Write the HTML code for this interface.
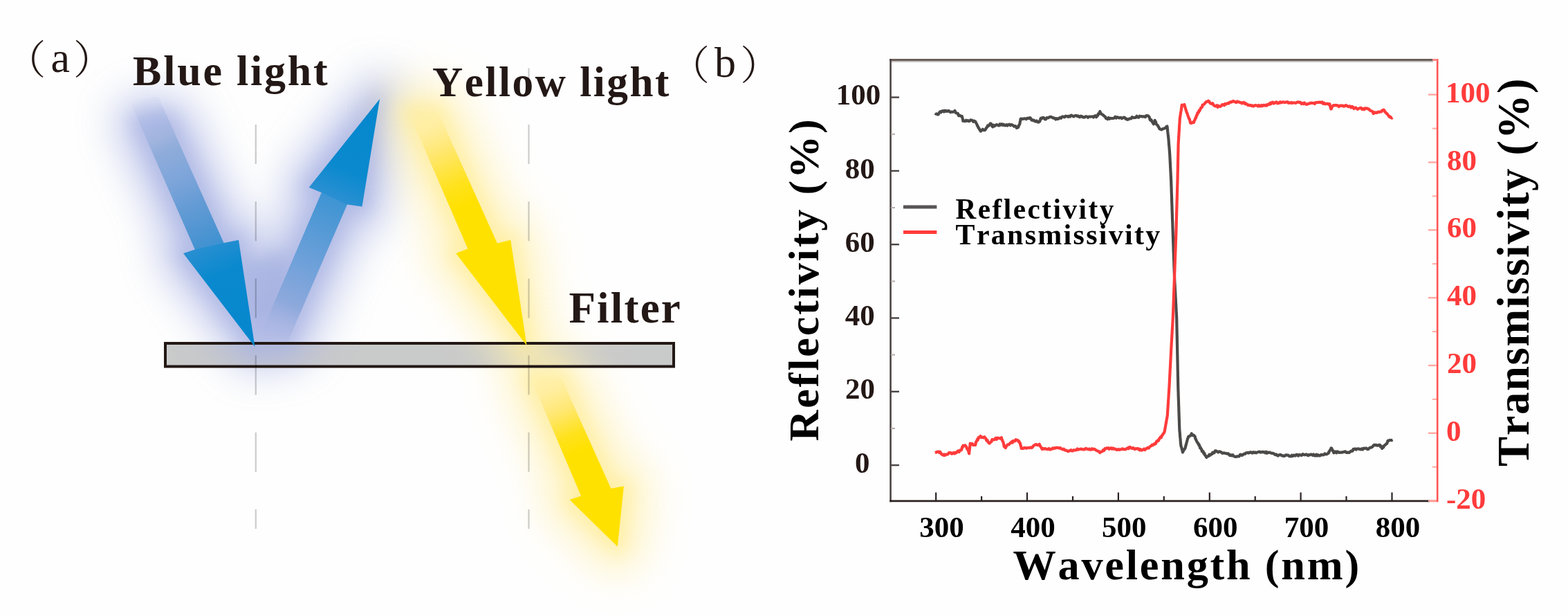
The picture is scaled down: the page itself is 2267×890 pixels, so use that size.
<!DOCTYPE html>
<html><head><meta charset="utf-8"><title>Filter reflectivity and transmissivity</title>
<style>
html,body{margin:0;padding:0;background:#fefefe;overflow:hidden}
svg{display:block}
text{font-family:"Liberation Serif","Noto Serif CJK SC",serif;font-kerning:none;font-variant-ligatures:none}
.b{font-weight:bold}
.cj{font-family:"Liberation Serif","Noto Serif CJK SC",serif;font-weight:300}
</style></head><body>
<svg width="2267" height="890" viewBox="0 0 2267 890">
<defs>
<filter id="gbw" x="-50%" y="-50%" width="200%" height="200%"><feGaussianBlur stdDeviation="28"/></filter>
<filter id="gbn" x="-50%" y="-50%" width="200%" height="200%"><feGaussianBlur stdDeviation="12"/></filter>
<linearGradient id="bi" gradientUnits="userSpaceOnUse" x1="205" y1="140" x2="300" y2="358">
 <stop offset="0" stop-color="#a6b5e3" stop-opacity="0"/><stop offset="0.09" stop-color="#a6b5e3" stop-opacity="0.2"/><stop offset="0.18" stop-color="#a2b4e2" stop-opacity="0.6"/><stop offset="0.275" stop-color="#a0b4de"/><stop offset="0.36" stop-color="#8facda"/><stop offset="0.55" stop-color="#7da5da"/><stop offset="0.73" stop-color="#649bd4"/><stop offset="0.92" stop-color="#4b94d2"/><stop offset="1" stop-color="#3f92d1"/></linearGradient>
<linearGradient id="bih" gradientUnits="userSpaceOnUse" x1="300" y1="350" x2="368" y2="500">
 <stop offset="0" stop-color="#2a8fd1"/><stop offset="0.3" stop-color="#0a89ce"/><stop offset="1" stop-color="#0587cd"/></linearGradient>
<linearGradient id="br" gradientUnits="userSpaceOnUse" x1="396" y1="492" x2="485" y2="285">
 <stop offset="0" stop-color="#aab6e2" stop-opacity="0"/><stop offset="0.1" stop-color="#a8b5e2" stop-opacity="0.7"/><stop offset="0.25" stop-color="#8ea9dc"/><stop offset="0.55" stop-color="#6da0d9"/><stop offset="1" stop-color="#3d94d3"/></linearGradient>
<linearGradient id="brh" gradientUnits="userSpaceOnUse" x1="485" y1="290" x2="549" y2="143">
 <stop offset="0" stop-color="#2c90d2"/><stop offset="0.3" stop-color="#0a89ce"/><stop offset="1" stop-color="#0587cd"/></linearGradient>
<linearGradient id="yi" gradientUnits="userSpaceOnUse" x1="610" y1="160" x2="698" y2="358">
 <stop offset="0" stop-color="#fff0a8" stop-opacity="0"/><stop offset="0.12" stop-color="#ffeea0" stop-opacity="0.8"/><stop offset="0.3" stop-color="#ffe770"/><stop offset="0.55" stop-color="#ffe21c"/><stop offset="0.7" stop-color="#ffe100"/><stop offset="1" stop-color="#ffe100"/></linearGradient>
<linearGradient id="yt" gradientUnits="userSpaceOnUse" x1="790" y1="545" x2="862" y2="712">
 <stop offset="0" stop-color="#fff0a8" stop-opacity="0"/><stop offset="0.1" stop-color="#ffeea0" stop-opacity="0.8"/><stop offset="0.3" stop-color="#ffe770"/><stop offset="0.5" stop-color="#ffe21c"/><stop offset="0.65" stop-color="#ffe100"/><stop offset="1" stop-color="#ffe100"/></linearGradient>
</defs>
<rect x="0" y="0" width="2267" height="890" fill="#fefefe"/>

<rect x="239" y="496" width="735" height="33.5" fill="#c9caca"/>
<g filter="url(#gbw)" opacity="0.7">
<polygon points="200.4,175.0 244.8,175.0 323.6,351.0 345.0,346.7 368.5,501.0 265.0,366.0 281.8,360.4" fill="#a9b3e3" stroke="#a9b3e3" stroke-width="70" stroke-linejoin="round"/>
<polygon points="549.0,143.0 523.5,298.5 502.0,295.4 416.0,494.0 372.0,494.0 464.8,278.3 446.7,270.8" fill="#a9b3e3" stroke="#a9b3e3" stroke-width="70" stroke-linejoin="round"/>
</g>
<g filter="url(#gbn)" opacity="0.62">
<polygon points="200.4,175.0 244.8,175.0 323.6,351.0 345.0,346.7 368.5,501.0 265.0,366.0 281.8,360.4" fill="#a9b3e3" stroke="#a9b3e3" stroke-width="22" stroke-linejoin="round"/>
<polygon points="549.0,143.0 523.5,298.5 502.0,295.4 416.0,494.0 372.0,494.0 464.8,278.3 446.7,270.8" fill="#a9b3e3" stroke="#a9b3e3" stroke-width="22" stroke-linejoin="round"/>
</g>
<g filter="url(#gbn)" opacity="0.55">
<polygon points="352,380 410,360 418,400 405,450 372,470 360,440" fill="#9aa8dc"/>
</g>
<g filter="url(#gbw)" opacity="0.7">
<polygon points="590.0,160.0 632.5,160.0 719.0,351.6 738.2,346.7 761.6,499.3 659.2,365.9 676.3,359.5" fill="#fff0b0" stroke="#fff0b0" stroke-width="80" stroke-linejoin="round"/>
<polygon points="767.0,545.0 811.0,545.0 883.4,705.8 901.9,702.5 892.8,789.8 823.6,722.1 840.1,716.6" fill="#fff0b0" stroke="#fff0b0" stroke-width="80" stroke-linejoin="round"/>
</g>
<g filter="url(#gbn)" opacity="0.6">
<polygon points="590.0,160.0 632.5,160.0 719.0,351.6 738.2,346.7 761.6,499.3 659.2,365.9 676.3,359.5" fill="#ffec90" stroke="#ffec90" stroke-width="22" stroke-linejoin="round"/>
<polygon points="767.0,545.0 811.0,545.0 883.4,705.8 901.9,702.5 892.8,789.8 823.6,722.1 840.1,716.6" fill="#ffec90" stroke="#ffec90" stroke-width="22" stroke-linejoin="round"/>
</g>
<rect x="239" y="496" width="735" height="33.5" fill="none" stroke="#231815" stroke-width="4"/>
<line x1="369.8" y1="180" x2="369.8" y2="764" stroke="#cdcdcd" stroke-width="2.2" stroke-dasharray="57 54.2" style="mix-blend-mode:multiply"/>
<line x1="764.5" y1="180" x2="764.5" y2="764" stroke="#cdcdcd" stroke-width="2.2" stroke-dasharray="57 54.2" style="mix-blend-mode:multiply"/>
<line x1="764.5" y1="98.5" x2="764.5" y2="131" stroke="#cdcdcd" stroke-width="2.2" style="mix-blend-mode:multiply"/>
<polygon points="185.0,140.0 229.0,140.0 329.3,363.8 287.4,373.2" fill="url(#bi)"/>
<polygon points="281.8,360.4 323.6,351.0 345.0,346.7 368.5,501.0 265.0,366.0" fill="url(#bih)"/>
<polygon points="507.6,282.6 416.0,494.0 372.0,494.0 470.3,265.4" fill="url(#br)"/>
<polygon points="549.0,143.0 523.5,298.5 502.0,295.4 464.8,278.3 446.7,270.8" fill="url(#brh)"/>
<polygon points="590.0,160.0 632.5,160.0 724.8,364.4 681.9,372.3" fill="url(#yi)"/>
<polygon points="676.3,359.5 719.0,351.6 738.2,346.7 761.6,499.3 659.2,365.9" fill="#ffe100"/>
<polygon points="767.0,545.0 811.0,545.0 889.1,718.6 845.6,729.5" fill="url(#yt)"/>
<polygon points="840.1,716.6 883.4,705.8 901.9,702.5 892.8,789.8 823.6,722.1" fill="#ffe100"/>
<text class="cj" x="8.3" y="106.7" font-size="58" fill="#231815">（</text>
<text x="73.6" y="103.5" font-size="62" fill="#231815">a</text>
<text class="cj" x="105.9" y="106.7" font-size="58" fill="#231815">）</text>
<text class="b" x="192" y="122.6" font-size="62" letter-spacing="2.78" fill="#231815">Blue light</text>
<text class="b" x="625" y="139" font-size="61.2" letter-spacing="2.55" fill="#231815">Yellow light</text>
<text class="b" x="822.4" y="465.5" font-size="63" letter-spacing="2.2" fill="#231815">Filter</text>
<text class="cj" x="967.9" y="114.7" font-size="58" fill="#231815">（</text>
<text x="1033" y="111" font-size="62" fill="#231815">b</text>
<text class="cj" x="1070.2" y="114.7" font-size="58" fill="#231815">）</text>
<line x1="1286" y1="86.5" x2="2072" y2="86.5" stroke="#6a5e59" stroke-width="3"/>
<line x1="1289" y1="89" x2="2072" y2="89" stroke="#b4b0af" stroke-width="1.4"/>
<line x1="1287.6" y1="85" x2="1287.6" y2="725.2" stroke="#4a4442" stroke-width="2.6"/>
<line x1="1286.3" y1="723.8" x2="2067" y2="723.8" stroke="#2a2220" stroke-width="2.8"/>
<line x1="2078.2" y1="85" x2="2078.2" y2="725.2" stroke="#ff5555" stroke-width="2.6"/>
<line x1="2067" y1="723.8" x2="2078" y2="723.8" stroke="#ff5555" stroke-width="2.8"/>
<line x1="2071" y1="86.5" x2="2078" y2="86.5" stroke="#ff8888" stroke-width="3"/>
<line x1="1288" y1="672.1" x2="1300" y2="672.1" stroke="#4a4442" stroke-width="2.4"/>
<line x1="1288" y1="565.8" x2="1300" y2="565.8" stroke="#4a4442" stroke-width="2.4"/>
<line x1="1288" y1="459.5" x2="1300" y2="459.5" stroke="#4a4442" stroke-width="2.4"/>
<line x1="1288" y1="353.2" x2="1300" y2="353.2" stroke="#4a4442" stroke-width="2.4"/>
<line x1="1288" y1="246.9" x2="1300" y2="246.9" stroke="#4a4442" stroke-width="2.4"/>
<line x1="1288" y1="140.6" x2="1300" y2="140.6" stroke="#4a4442" stroke-width="2.4"/>
<line x1="1288" y1="619.0" x2="1294" y2="619.0" stroke="#b5adaa" stroke-width="2"/>
<line x1="1288" y1="512.6" x2="1294" y2="512.6" stroke="#b5adaa" stroke-width="2"/>
<line x1="1288" y1="406.4" x2="1294" y2="406.4" stroke="#b5adaa" stroke-width="2"/>
<line x1="1288" y1="300.1" x2="1294" y2="300.1" stroke="#b5adaa" stroke-width="2"/>
<line x1="1288" y1="193.8" x2="1294" y2="193.8" stroke="#b5adaa" stroke-width="2"/>
<line x1="2065" y1="723.6" x2="2077" y2="723.6" stroke="#ffaaa0" stroke-width="2.4"/>
<line x1="2065" y1="625.8" x2="2077" y2="625.8" stroke="#ffaaa0" stroke-width="2.4"/>
<line x1="2065" y1="528.0" x2="2077" y2="528.0" stroke="#ffaaa0" stroke-width="2.4"/>
<line x1="2065" y1="430.2" x2="2077" y2="430.2" stroke="#ffaaa0" stroke-width="2.4"/>
<line x1="2065" y1="332.3" x2="2077" y2="332.3" stroke="#ffaaa0" stroke-width="2.4"/>
<line x1="2065" y1="234.5" x2="2077" y2="234.5" stroke="#ffaaa0" stroke-width="2.4"/>
<line x1="2065" y1="136.7" x2="2077" y2="136.7" stroke="#ffaaa0" stroke-width="2.4"/>
<line x1="2071" y1="674.7" x2="2077" y2="674.7" stroke="#ffaaa0" stroke-width="2"/>
<line x1="2071" y1="576.9" x2="2077" y2="576.9" stroke="#ffaaa0" stroke-width="2"/>
<line x1="2071" y1="479.1" x2="2077" y2="479.1" stroke="#ffaaa0" stroke-width="2"/>
<line x1="2071" y1="381.2" x2="2077" y2="381.2" stroke="#ffaaa0" stroke-width="2"/>
<line x1="2071" y1="283.4" x2="2077" y2="283.4" stroke="#ffaaa0" stroke-width="2"/>
<line x1="2071" y1="185.6" x2="2077" y2="185.6" stroke="#ffaaa0" stroke-width="2"/>
<line x1="1353.2" y1="711.5" x2="1353.2" y2="723" stroke="#2a2220" stroke-width="2.2"/>
<line x1="1485.0" y1="711.5" x2="1485.0" y2="723" stroke="#2a2220" stroke-width="2.2"/>
<line x1="1616.9" y1="711.5" x2="1616.9" y2="723" stroke="#2a2220" stroke-width="2.2"/>
<line x1="1748.8" y1="711.5" x2="1748.8" y2="723" stroke="#2a2220" stroke-width="2.2"/>
<line x1="1880.6" y1="711.5" x2="1880.6" y2="723" stroke="#2a2220" stroke-width="2.2"/>
<line x1="2012.5" y1="711.5" x2="2012.5" y2="723" stroke="#2a2220" stroke-width="2.2"/>
<line x1="1419.1" y1="717" x2="1419.1" y2="723" stroke="#2a2220" stroke-width="2.2"/>
<line x1="1551.0" y1="717" x2="1551.0" y2="723" stroke="#2a2220" stroke-width="2.2"/>
<line x1="1682.8" y1="717" x2="1682.8" y2="723" stroke="#2a2220" stroke-width="2.2"/>
<line x1="1814.7" y1="717" x2="1814.7" y2="723" stroke="#2a2220" stroke-width="2.2"/>
<line x1="1946.5" y1="717" x2="1946.5" y2="723" stroke="#2a2220" stroke-width="2.2"/>
<text class="b" x="1241.1" y="151.2" font-size="43" text-anchor="middle" fill="#231815">100</text>
<text class="b" x="1243.3" y="257.5" font-size="43" text-anchor="middle" fill="#231815">80</text>
<text class="b" x="1243.2" y="363.8" font-size="43" text-anchor="middle" fill="#231815">60</text>
<text class="b" x="1243.2" y="470.1" font-size="43" text-anchor="middle" fill="#231815">40</text>
<text class="b" x="1243.4" y="576.4" font-size="43" text-anchor="middle" fill="#231815">20</text>
<text class="b" x="1246.7" y="682.7" font-size="43" text-anchor="middle" fill="#231815">0</text>
<text class="b" x="2091" y="734.6" font-size="43" fill="#ff3b3b">-20</text>
<text class="b" x="2091" y="636.8" font-size="43" fill="#ff3b3b">0</text>
<text class="b" x="2092" y="539.0" font-size="43" fill="#ff3b3b">20</text>
<text class="b" x="2092" y="441.2" font-size="43" fill="#ff3b3b">40</text>
<text class="b" x="2092" y="343.3" font-size="43" fill="#ff3b3b">60</text>
<text class="b" x="2092" y="245.5" font-size="43" fill="#ff3b3b">80</text>
<text class="b" x="2090" y="147.7" font-size="43" fill="#ff3b3b">100</text>
<text class="b" x="1361.6" y="776" font-size="43" text-anchor="middle" fill="#000">300</text>
<text class="b" x="1493.5" y="776" font-size="43" text-anchor="middle" fill="#000">400</text>
<text class="b" x="1625.3" y="776" font-size="43" text-anchor="middle" fill="#000">500</text>
<text class="b" x="1757.2" y="776" font-size="43" text-anchor="middle" fill="#000">600</text>
<text class="b" x="1889.0" y="776" font-size="43" text-anchor="middle" fill="#000">700</text>
<text class="b" x="2020.9" y="776" font-size="43" text-anchor="middle" fill="#000">800</text>
<polyline points="1351.9,163.6 1353.2,164.7 1354.6,164.7 1355.9,165.6 1357.1,164.7 1358.2,162.4 1359.4,161.2 1360.6,162.2 1362.0,160.4 1363.4,160.0 1364.8,161.4 1366.2,159.7 1367.6,160.8 1368.9,160.2 1370.3,160.8 1371.6,159.9 1373.0,161.3 1374.3,162.1 1375.7,161.5 1377.3,161.8 1378.9,161.5 1380.5,160.0 1381.6,162.7 1382.7,163.3 1383.8,163.6 1384.9,164.0 1386.0,167.1 1387.6,166.7 1389.2,167.8 1390.8,167.8 1391.1,169.1 1391.4,170.3 1391.8,171.6 1392.1,172.8 1392.4,175.0 1393.8,174.6 1395.1,175.1 1396.5,173.8 1397.8,174.8 1399.2,174.0 1400.5,175.1 1401.9,175.0 1403.2,173.3 1404.5,173.5 1405.8,173.9 1407.2,175.8 1408.5,174.7 1409.8,175.3 1410.4,175.8 1411.1,177.5 1411.7,178.5 1412.4,179.7 1413.0,181.5 1413.8,182.7 1414.6,184.6 1415.4,185.3 1416.2,187.1 1417.0,188.1 1417.8,189.6 1419.4,188.4 1420.9,186.8 1422.5,188.1 1424.1,187.9 1425.1,186.6 1426.1,184.6 1427.1,183.8 1428.1,181.4 1429.4,181.8 1430.7,180.1 1432.0,178.4 1433.1,178.9 1434.1,181.9 1435.2,183.3 1436.5,180.8 1437.9,182.3 1439.2,181.1 1440.5,180.2 1441.9,180.3 1443.2,181.1 1444.5,181.4 1445.8,179.3 1447.2,180.6 1448.5,179.2 1449.8,180.8 1451.1,179.8 1452.5,181.1 1453.8,181.3 1455.1,180.1 1456.5,181.5 1458.0,180.0 1459.4,179.7 1460.9,181.1 1462.3,180.0 1463.8,180.6 1465.0,181.6 1466.2,182.6 1467.4,182.0 1468.6,182.3 1469.8,184.8 1471.0,184.0 1471.8,184.3 1472.5,183.0 1473.3,180.6 1474.1,179.7 1474.4,178.4 1474.6,177.0 1474.9,175.7 1475.2,174.4 1475.4,173.0 1475.7,171.6 1477.0,171.6 1478.4,171.8 1479.8,171.6 1481.1,171.4 1482.5,171.4 1483.8,172.1 1485.2,170.9 1486.5,170.7 1487.9,171.2 1489.2,170.0 1490.3,171.0 1491.4,173.5 1492.6,173.2 1493.7,174.2 1494.8,173.7 1496.1,175.0 1497.4,175.6 1498.8,174.5 1500.1,176.2 1501.4,176.6 1502.7,175.4 1503.2,175.5 1503.7,173.9 1504.1,173.2 1504.6,171.1 1505.1,170.7 1506.5,171.1 1507.8,169.8 1509.2,170.3 1510.6,172.1 1512.0,172.4 1513.3,170.2 1514.7,170.3 1516.1,170.2 1517.4,169.1 1518.8,168.8 1520.1,169.1 1521.3,169.7 1522.6,170.7 1523.8,170.4 1525.1,171.0 1526.3,172.4 1527.6,171.1 1528.9,171.9 1530.1,171.9 1531.4,170.5 1532.7,169.8 1534.0,170.8 1535.2,169.0 1536.5,168.4 1537.8,168.9 1539.1,169.3 1540.5,167.7 1541.8,168.0 1543.1,167.9 1544.4,168.9 1545.7,167.7 1547.1,168.5 1548.4,166.7 1549.7,166.9 1551.0,167.8 1552.3,168.4 1553.6,167.5 1554.9,167.1 1556.2,166.9 1557.5,168.0 1558.8,167.3 1560.1,168.9 1561.4,169.1 1562.7,167.7 1564.0,168.0 1565.3,169.4 1566.6,169.1 1567.9,169.6 1569.2,168.6 1570.5,168.2 1571.8,168.7 1573.1,169.8 1574.4,168.5 1575.8,168.5 1577.1,168.6 1578.4,168.5 1579.7,168.4 1581.0,169.5 1582.4,167.6 1583.7,167.1 1585.0,169.3 1585.9,168.0 1586.8,167.2 1587.7,164.7 1588.5,164.9 1589.4,163.7 1590.3,160.9 1591.2,163.2 1592.1,164.4 1592.9,164.9 1593.8,165.6 1594.7,166.0 1595.8,167.2 1596.8,168.0 1597.9,168.6 1598.9,171.0 1600.0,171.3 1601.4,172.2 1602.8,170.0 1604.2,171.7 1605.6,170.8 1607.0,171.0 1608.4,171.0 1609.7,171.0 1611.1,170.2 1612.4,168.8 1613.8,170.6 1615.2,169.2 1616.5,169.5 1617.9,170.4 1619.3,170.1 1620.6,169.8 1622.0,171.1 1623.3,170.3 1624.7,169.6 1626.1,169.9 1627.5,171.9 1628.9,171.6 1630.3,172.8 1631.7,172.3 1633.0,171.3 1634.2,171.4 1635.5,171.4 1636.7,169.1 1638.0,169.9 1639.4,170.1 1640.8,169.8 1642.1,169.8 1643.5,167.8 1644.9,169.2 1646.2,169.7 1647.6,167.7 1649.0,168.2 1650.4,168.1 1651.8,168.6 1653.1,168.3 1654.5,168.4 1655.9,169.1 1657.2,167.1 1658.6,167.2 1660.0,167.3 1660.9,168.5 1661.8,169.5 1662.7,172.9 1663.5,173.8 1664.4,173.1 1665.3,175.3 1666.2,176.3 1667.1,177.8 1668.0,179.3 1668.4,178.8 1668.8,177.3 1669.3,175.5 1669.7,173.8 1670.3,175.3 1670.9,175.9 1671.5,178.1 1672.0,179.7 1672.6,180.0 1673.2,180.5 1674.1,181.8 1675.0,183.3 1675.8,184.9 1676.7,186.4 1677.6,186.5 1678.9,187.3 1680.3,186.7 1681.7,186.0 1683.0,185.7 1684.1,185.1 1685.2,184.7 1686.3,183.1 1687.4,182.4 1687.6,183.8 1687.7,185.1 1687.9,186.5 1688.0,187.8 1688.2,189.2 1688.3,190.5 1688.5,191.9 1688.6,193.2 1688.8,194.6 1688.9,195.9 1689.1,197.3 1689.2,198.6 1689.4,200.0 1689.5,201.3 1689.6,202.7 1689.7,204.0 1689.8,205.3 1689.9,206.6 1690.0,208.0 1690.1,209.3 1690.2,210.6 1690.4,212.0 1690.5,213.3 1690.6,214.6 1690.7,216.0 1690.8,217.3 1690.9,218.6 1691.0,219.9 1691.1,221.3 1691.2,222.6 1691.3,223.9 1691.3,225.2 1691.4,226.5 1691.5,227.9 1691.5,229.2 1691.6,230.5 1691.7,231.8 1691.7,233.1 1691.8,234.4 1691.9,235.7 1691.9,237.0 1692.0,238.4 1692.1,239.7 1692.1,241.0 1692.2,242.3 1692.3,243.6 1692.3,244.9 1692.4,246.2 1692.5,247.6 1692.5,248.9 1692.6,250.2 1692.7,251.5 1692.7,252.8 1692.8,254.1 1692.9,255.4 1692.9,256.7 1693.0,258.1 1693.1,259.4 1693.1,260.7 1693.2,262.0 1693.2,263.3 1693.3,264.6 1693.3,266.0 1693.4,267.3 1693.4,268.6 1693.5,269.9 1693.5,271.2 1693.6,272.6 1693.6,273.9 1693.6,275.2 1693.7,276.5 1693.7,277.8 1693.8,279.1 1693.8,280.5 1693.9,281.8 1693.9,283.1 1694.0,284.4 1694.0,285.7 1694.1,287.1 1694.1,288.4 1694.1,289.7 1694.2,291.0 1694.2,292.3 1694.3,293.7 1694.3,295.0 1694.4,296.3 1694.4,297.6 1694.5,298.9 1694.5,300.2 1694.5,301.6 1694.6,302.9 1694.6,304.2 1694.7,305.5 1694.7,306.8 1694.8,308.2 1694.8,309.5 1694.9,310.8 1694.9,312.1 1694.9,313.4 1695.0,314.8 1695.0,316.1 1695.1,317.4 1695.1,318.7 1695.2,320.0 1695.2,321.4 1695.3,322.7 1695.3,324.0 1695.4,325.3 1695.4,326.6 1695.4,327.9 1695.5,329.3 1695.5,330.6 1695.6,331.9 1695.6,333.2 1695.7,334.5 1695.7,335.9 1695.8,337.2 1695.8,338.5 1695.8,339.8 1695.9,341.1 1695.9,342.4 1696.0,343.7 1696.0,345.0 1696.1,346.4 1696.1,347.7 1696.2,349.0 1696.2,350.3 1696.3,351.6 1696.3,352.9 1696.4,354.2 1696.4,355.5 1696.5,356.8 1696.5,358.1 1696.5,359.4 1696.6,360.7 1696.6,362.1 1696.7,363.4 1696.7,364.7 1696.8,366.0 1696.8,367.3 1696.9,368.6 1696.9,369.9 1697.0,371.2 1697.0,372.5 1697.1,373.8 1697.1,375.1 1697.2,376.4 1697.2,377.8 1697.3,379.1 1697.3,380.4 1697.3,381.7 1697.4,383.0 1697.4,384.3 1697.5,385.6 1697.5,386.9 1697.6,388.2 1697.6,389.5 1697.7,390.8 1697.7,392.1 1697.8,393.5 1697.8,394.8 1697.9,396.1 1697.9,397.4 1698.0,398.7 1698.0,400.0 1698.1,401.3 1698.1,402.6 1698.2,403.9 1698.3,405.2 1698.3,406.5 1698.4,407.8 1698.5,409.1 1698.6,410.4 1698.6,411.7 1698.7,413.0 1698.8,414.3 1698.8,415.7 1698.9,417.0 1699.0,418.3 1699.0,419.6 1699.1,420.9 1699.2,422.2 1699.3,423.5 1699.3,424.8 1699.4,426.1 1699.5,427.4 1699.5,428.7 1699.6,430.0 1699.7,431.3 1699.7,432.6 1699.8,433.9 1699.9,435.2 1699.9,436.5 1700.0,437.8 1700.1,439.1 1700.2,440.4 1700.2,441.7 1700.3,443.0 1700.4,444.3 1700.4,445.7 1700.5,447.0 1700.6,448.3 1700.6,449.6 1700.7,450.9 1700.8,452.2 1700.9,453.5 1700.9,454.8 1701.0,456.1 1701.1,457.4 1701.1,458.7 1701.2,460.0 1701.2,461.3 1701.3,462.6 1701.3,463.9 1701.3,465.3 1701.3,466.6 1701.4,467.9 1701.4,469.2 1701.4,470.5 1701.4,471.8 1701.5,473.2 1701.5,474.5 1701.5,475.8 1701.6,477.1 1701.6,478.4 1701.6,479.7 1701.6,481.1 1701.7,482.4 1701.7,483.7 1701.7,485.0 1701.8,486.3 1701.8,487.6 1701.8,488.9 1701.8,490.3 1701.9,491.6 1701.9,492.9 1701.9,494.2 1701.9,495.5 1702.0,496.8 1702.0,498.2 1702.0,499.5 1702.1,500.8 1702.1,502.1 1702.1,503.4 1702.1,504.7 1702.2,506.1 1702.2,507.4 1702.2,508.7 1702.2,510.0 1702.3,511.3 1702.3,512.6 1702.3,513.9 1702.4,515.3 1702.4,516.6 1702.4,517.9 1702.4,519.2 1702.5,520.5 1702.5,521.8 1702.5,523.2 1702.6,524.5 1702.6,525.8 1702.6,527.1 1702.6,528.4 1702.7,529.7 1702.7,531.1 1702.7,532.4 1702.7,533.7 1702.8,535.0 1702.8,536.3 1702.8,537.6 1702.9,538.9 1702.9,540.3 1702.9,541.6 1702.9,542.9 1703.0,544.2 1703.0,545.5 1703.0,546.8 1703.1,548.2 1703.1,549.5 1703.1,550.8 1703.1,552.1 1703.2,553.4 1703.2,554.7 1703.2,556.1 1703.2,557.4 1703.3,558.7 1703.3,560.0 1703.3,561.3 1703.4,562.6 1703.4,564.0 1703.5,565.3 1703.5,566.6 1703.6,567.9 1703.6,569.2 1703.6,570.6 1703.7,571.9 1703.7,573.2 1703.8,574.5 1703.8,575.8 1703.9,577.2 1703.9,578.5 1704.0,579.8 1704.0,581.1 1704.0,582.4 1704.1,583.8 1704.1,585.1 1704.2,586.4 1704.2,587.7 1704.3,589.0 1704.3,590.4 1704.3,591.7 1704.4,593.0 1704.4,594.3 1704.5,595.6 1704.5,596.9 1704.6,598.3 1704.6,599.6 1704.6,600.9 1704.7,602.2 1704.7,603.5 1704.8,604.9 1704.8,606.2 1704.9,607.5 1704.9,608.8 1705.0,610.1 1705.0,611.5 1705.0,612.8 1705.1,614.1 1705.1,615.4 1705.2,616.7 1705.2,618.1 1705.3,619.4 1705.3,620.7 1705.4,622.0 1705.5,623.4 1705.7,624.7 1705.8,626.1 1705.9,627.4 1706.0,628.8 1706.1,630.1 1706.2,631.5 1706.4,632.8 1706.5,634.2 1706.6,635.5 1706.7,636.9 1706.8,638.2 1706.9,639.6 1707.1,640.9 1707.2,642.3 1707.3,643.6 1707.7,644.9 1708.1,646.3 1708.5,647.6 1708.8,649.0 1709.2,650.3 1709.6,651.7 1710.0,653.5 1710.8,651.6 1711.7,649.7 1712.6,649.0 1713.4,647.6 1713.8,646.3 1714.1,644.9 1714.5,643.6 1714.9,642.2 1715.2,640.9 1715.6,639.5 1715.9,638.2 1716.3,636.8 1716.7,635.5 1717.0,634.1 1717.4,633.3 1718.3,630.8 1719.2,630.6 1720.1,629.6 1721.0,629.6 1721.9,628.8 1722.8,626.4 1723.8,628.5 1724.8,629.1 1725.9,628.7 1726.9,630.0 1727.6,630.5 1728.2,633.6 1728.9,634.5 1729.6,636.4 1730.2,637.6 1730.9,638.6 1731.5,640.0 1732.1,640.8 1732.7,640.8 1733.3,643.2 1733.9,643.0 1734.5,644.5 1735.1,647.3 1735.7,646.7 1736.3,648.0 1737.1,649.1 1737.9,652.1 1738.7,651.5 1739.5,652.2 1740.3,655.2 1741.2,654.6 1742.0,657.4 1742.8,658.1 1743.6,659.5 1744.4,660.9 1745.8,659.3 1747.1,659.2 1748.5,656.7 1749.8,657.7 1751.0,656.4 1752.1,656.1 1753.3,653.8 1754.4,654.6 1755.6,654.3 1756.7,651.4 1757.9,651.3 1760.0,652.6 1761.3,653.5 1762.6,652.4 1763.8,652.6 1765.1,653.0 1766.4,654.2 1767.7,654.9 1769.0,654.3 1770.3,654.5 1771.6,654.9 1772.8,655.1 1774.1,655.6 1775.4,655.1 1776.8,656.5 1778.2,658.1 1779.5,657.1 1780.9,658.3 1782.3,657.3 1783.7,659.0 1785.0,659.6 1786.4,659.8 1787.8,659.8 1789.0,659.3 1790.3,659.3 1791.5,659.4 1792.7,657.2 1793.9,656.6 1795.2,657.8 1796.4,657.7 1797.6,656.3 1798.9,655.7 1800.1,655.9 1801.4,654.4 1802.8,654.3 1804.1,653.9 1805.4,654.6 1806.7,653.7 1808.1,653.2 1809.4,654.1 1810.7,654.7 1812.0,653.1 1813.4,654.1 1814.7,653.4 1816.0,654.4 1817.3,653.8 1818.7,653.0 1820.0,652.9 1821.3,652.5 1822.6,653.6 1824.0,653.3 1825.3,652.8 1826.6,653.3 1827.9,653.2 1829.3,654.3 1830.6,652.7 1831.9,654.8 1833.2,653.6 1834.6,653.8 1835.9,653.5 1837.2,654.4 1838.5,654.9 1839.9,654.8 1841.2,655.1 1842.5,656.2 1843.8,657.1 1845.2,656.5 1846.5,657.9 1847.8,658.5 1849.1,657.4 1850.5,656.9 1851.8,657.0 1853.1,658.3 1854.4,658.2 1855.8,659.0 1857.1,658.8 1858.4,657.5 1859.7,657.4 1861.0,657.7 1862.4,657.6 1863.7,658.9 1865.0,659.4 1866.3,659.4 1867.6,657.7 1869.0,659.1 1870.3,657.7 1871.6,657.9 1872.9,658.5 1874.2,656.9 1875.6,656.8 1876.9,658.5 1878.2,657.1 1879.5,657.2 1880.9,657.7 1882.2,657.8 1883.5,656.1 1884.8,656.9 1886.1,657.1 1887.4,657.1 1888.7,656.4 1890.0,657.3 1891.3,658.2 1892.6,656.9 1894.0,657.3 1895.3,656.4 1896.6,656.8 1897.9,657.8 1899.2,656.5 1900.6,658.4 1901.9,658.5 1903.2,656.6 1904.5,658.6 1905.9,657.3 1907.2,658.3 1908.5,658.3 1909.9,656.9 1911.3,657.4 1912.6,657.0 1914.0,657.1 1915.4,655.4 1916.8,656.2 1918.1,656.4 1919.5,655.4 1920.9,654.7 1921.5,652.4 1922.1,652.1 1922.8,650.5 1923.4,650.2 1924.0,648.9 1924.6,647.4 1925.3,647.7 1926.1,650.0 1926.8,651.2 1927.6,651.4 1928.3,654.3 1929.6,653.8 1930.9,652.5 1932.2,654.4 1933.5,652.5 1934.8,653.0 1936.1,653.9 1937.4,653.6 1938.7,653.5 1940.0,653.8 1941.4,653.3 1942.7,652.9 1944.0,652.6 1945.3,652.4 1946.6,653.9 1947.9,654.0 1949.2,653.5 1950.5,654.0 1951.8,653.1 1953.0,652.0 1954.2,651.4 1955.5,651.7 1956.7,648.8 1957.9,649.0 1959.3,648.4 1960.6,649.6 1962.0,648.5 1963.3,648.4 1964.7,648.6 1966.0,648.9 1967.4,649.4 1968.8,648.3 1970.1,649.5 1971.5,647.7 1972.8,648.0 1974.2,647.6 1975.5,647.6 1976.9,649.1 1978.2,649.0 1979.6,647.6 1980.6,646.8 1981.6,646.6 1982.7,646.5 1983.7,645.9 1984.7,644.9 1985.7,643.7 1987.0,642.7 1988.4,643.3 1989.7,642.8 1991.0,643.6 1992.3,643.7 1993.7,642.8 1995.0,642.9 1996.0,645.4 1997.1,644.8 1998.1,647.9 1999.1,647.1 2000.2,646.2 2001.2,643.8 2002.2,643.2 2003.3,642.2 2004.3,641.3 2005.1,640.9 2005.8,639.0 2006.6,636.8 2007.4,637.0 2008.9,635.9 2010.5,636.0 2012.0,636.1 2013.5,635.4" fill="none" stroke="#4b4a49" stroke-width="4.2" stroke-linejoin="round"/>
<polyline points="1351.9,654.2 1353.2,653.7 1354.6,653.0 1355.9,652.6 1357.0,652.9 1358.1,654.1 1359.2,652.8 1360.3,654.6 1361.4,656.6 1362.6,656.5 1363.8,657.7 1365.0,656.4 1366.2,657.8 1367.6,656.7 1369.0,656.7 1370.5,656.2 1371.9,654.2 1373.3,654.0 1374.6,654.2 1376.0,655.7 1377.3,655.3 1378.6,653.9 1380.0,655.4 1381.3,653.8 1382.6,654.3 1383.9,652.5 1385.2,651.5 1386.6,652.9 1387.9,650.7 1389.2,650.0 1389.8,650.4 1390.5,648.8 1391.1,645.9 1391.8,646.1 1392.4,643.7 1394.0,644.3 1395.5,643.4 1397.1,645.5 1397.5,646.1 1398.0,648.0 1398.4,649.0 1398.9,648.9 1399.3,650.2 1399.8,651.0 1400.2,652.2 1400.7,653.2 1401.1,655.5 1401.2,654.2 1401.4,652.9 1401.5,651.6 1401.7,650.3 1401.8,649.0 1402.0,647.7 1402.1,646.4 1402.3,645.1 1402.4,643.8 1402.6,642.5 1402.7,640.7 1404.1,641.9 1405.5,641.0 1407.0,643.1 1408.4,642.7 1409.8,643.1 1410.2,643.0 1410.6,640.8 1411.0,639.0 1411.4,638.0 1412.2,637.3 1413.0,634.6 1413.8,635.6 1414.6,632.1 1415.4,632.7 1416.2,631.7 1417.6,630.1 1419.0,632.2 1420.5,631.5 1421.9,632.4 1423.3,631.3 1424.3,632.4 1425.3,633.7 1426.3,636.6 1427.3,635.7 1428.3,638.1 1429.3,639.5 1430.3,640.5 1431.3,640.0 1432.1,638.9 1432.9,638.2 1433.6,637.7 1434.4,635.0 1435.2,635.4 1436.6,635.3 1438.0,635.2 1439.4,632.9 1440.8,634.8 1442.3,632.5 1443.7,632.9 1445.1,633.3 1446.5,633.8 1447.9,632.1 1448.3,634.8 1448.8,635.2 1449.2,635.9 1449.6,637.2 1450.1,638.2 1450.5,639.2 1451.0,640.7 1451.4,643.3 1451.8,645.3 1452.3,644.6 1452.7,645.6 1453.8,647.0 1454.8,644.9 1455.8,643.7 1456.9,642.4 1458.0,642.3 1459.0,642.0 1460.2,640.5 1461.4,639.7 1462.6,638.2 1463.8,639.6 1465.0,636.9 1466.2,637.3 1467.4,637.5 1468.6,635.2 1469.8,636.0 1471.0,635.9 1471.8,636.4 1472.6,638.1 1473.4,637.7 1474.2,639.8 1475.0,640.4 1475.4,643.4 1475.8,643.5 1476.2,645.2 1476.6,647.9 1478.0,647.6 1479.4,648.0 1480.8,646.9 1482.2,647.0 1483.7,647.7 1485.1,647.2 1486.5,646.8 1487.9,647.2 1489.3,646.7 1490.4,646.4 1491.5,647.1 1492.6,646.3 1493.7,644.7 1494.8,643.6 1496.1,642.9 1497.5,642.1 1498.8,642.3 1500.1,643.2 1501.5,643.1 1502.8,641.7 1503.6,643.9 1504.4,645.2 1505.1,646.2 1505.9,647.4 1506.7,648.9 1508.1,648.0 1509.5,648.8 1510.8,647.9 1512.2,648.4 1513.6,649.1 1515.0,648.9 1516.4,648.0 1517.8,649.6 1519.1,648.9 1520.5,648.8 1521.9,647.4 1523.3,648.2 1524.7,647.0 1526.2,647.6 1527.6,646.6 1529.0,647.0 1530.3,647.0 1531.6,647.7 1532.9,647.0 1534.1,648.1 1535.4,648.8 1536.7,649.4 1538.0,648.6 1539.3,650.2 1540.6,650.7 1541.8,650.7 1543.1,651.7 1544.4,652.1 1545.7,651.4 1547.0,651.2 1548.3,650.1 1549.7,651.5 1551.0,651.5 1552.3,650.2 1553.7,650.5 1555.0,650.3 1556.3,650.1 1557.6,648.5 1558.9,649.7 1560.3,649.0 1561.6,649.0 1562.9,648.5 1564.3,649.0 1565.6,649.4 1566.9,649.1 1568.2,649.4 1569.6,647.8 1570.9,648.2 1572.2,648.9 1573.5,649.4 1574.9,648.5 1576.2,649.6 1577.5,649.6 1578.8,648.2 1580.2,649.3 1581.5,648.7 1582.7,649.0 1584.0,649.9 1585.2,651.0 1586.5,651.3 1587.7,652.0 1589.0,652.3 1590.2,654.0 1591.4,653.0 1592.6,652.8 1593.8,652.0 1595.0,650.3 1596.1,651.1 1597.3,648.2 1598.5,648.4 1599.7,647.3 1601.0,647.7 1602.4,647.1 1603.7,648.9 1605.0,647.9 1606.4,647.2 1607.7,648.7 1609.1,647.5 1610.4,648.7 1611.7,648.3 1613.1,649.0 1614.4,650.0 1615.8,649.8 1617.1,648.9 1618.4,650.0 1619.8,649.6 1621.1,649.1 1622.4,648.3 1623.7,649.1 1625.1,648.8 1626.4,649.4 1627.7,649.2 1629.0,648.1 1630.4,647.2 1631.7,648.2 1633.0,645.8 1634.3,646.3 1635.6,647.5 1636.9,647.9 1638.2,646.9 1639.5,648.3 1640.8,649.1 1642.2,648.0 1643.5,648.4 1644.8,648.1 1646.1,648.4 1647.4,650.2 1648.7,649.0 1650.0,650.6 1651.4,650.3 1652.7,649.4 1654.1,648.4 1655.4,649.9 1656.8,648.6 1658.1,647.7 1659.5,646.7 1660.8,647.6 1662.2,645.7 1663.5,644.5 1664.6,644.3 1665.7,642.7 1666.8,643.2 1668.0,642.1 1669.1,641.1 1670.2,641.6 1671.1,640.7 1671.9,637.8 1672.8,638.0 1673.7,636.4 1674.5,637.0 1675.4,635.7 1676.2,633.4 1677.1,632.5 1678.0,631.2 1678.8,632.3 1679.7,629.6 1680.4,629.2 1681.0,627.8 1681.7,627.1 1682.4,625.9 1683.0,625.1 1683.7,623.4 1683.9,622.0 1684.2,620.7 1684.4,619.3 1684.7,618.0 1684.9,616.6 1685.1,615.3 1685.4,613.9 1685.6,612.6 1685.9,611.2 1686.1,609.9 1686.4,608.5 1686.6,607.2 1686.8,605.8 1687.1,604.5 1687.3,603.1 1687.6,601.8 1687.8,600.4 1687.9,599.1 1688.0,597.8 1688.1,596.5 1688.1,595.2 1688.2,593.9 1688.3,592.6 1688.4,591.3 1688.5,590.0 1688.6,588.7 1688.6,587.4 1688.7,586.1 1688.8,584.8 1688.9,583.5 1689.0,582.2 1689.1,580.9 1689.1,579.5 1689.2,578.2 1689.3,576.9 1689.4,575.6 1689.5,574.3 1689.6,573.0 1689.6,571.7 1689.7,570.4 1689.8,569.1 1689.9,567.8 1690.0,566.5 1690.1,565.2 1690.1,563.9 1690.2,562.6 1690.3,561.3 1690.4,560.0 1690.5,558.7 1690.5,557.4 1690.6,556.1 1690.7,554.8 1690.7,553.5 1690.8,552.2 1690.9,550.9 1690.9,549.6 1691.0,548.3 1691.1,547.0 1691.1,545.7 1691.2,544.3 1691.3,543.0 1691.3,541.7 1691.4,540.4 1691.5,539.1 1691.5,537.8 1691.6,536.5 1691.7,535.2 1691.7,533.9 1691.8,532.6 1691.9,531.3 1692.0,530.0 1692.0,528.7 1692.1,527.4 1692.2,526.1 1692.2,524.8 1692.3,523.5 1692.4,522.2 1692.4,520.9 1692.5,519.6 1692.6,518.3 1692.6,517.0 1692.7,515.7 1692.8,514.3 1692.8,513.0 1692.9,511.7 1693.0,510.4 1693.0,509.1 1693.1,507.8 1693.2,506.5 1693.2,505.2 1693.3,503.9 1693.4,502.6 1693.4,501.3 1693.5,500.0 1693.6,498.7 1693.7,497.3 1693.7,496.0 1693.8,494.7 1693.9,493.3 1694.0,492.0 1694.0,490.7 1694.1,489.3 1694.2,488.0 1694.3,486.7 1694.3,485.3 1694.4,484.0 1694.5,482.7 1694.6,481.3 1694.7,480.0 1694.7,478.7 1694.8,477.3 1694.9,476.0 1695.0,474.7 1695.0,473.3 1695.1,472.0 1695.2,470.7 1695.3,469.3 1695.3,468.0 1695.4,466.7 1695.5,465.3 1695.6,464.0 1695.6,462.7 1695.7,461.3 1695.8,460.0 1695.8,458.7 1695.9,457.4 1695.9,456.1 1696.0,454.8 1696.0,453.5 1696.1,452.2 1696.1,450.9 1696.2,449.6 1696.2,448.3 1696.3,447.0 1696.3,445.7 1696.4,444.3 1696.4,443.0 1696.5,441.7 1696.5,440.4 1696.6,439.1 1696.6,437.8 1696.7,436.5 1696.7,435.2 1696.8,433.9 1696.8,432.6 1696.9,431.3 1696.9,430.0 1696.9,428.7 1697.0,427.4 1697.0,426.1 1697.1,424.8 1697.1,423.5 1697.2,422.2 1697.2,420.9 1697.3,419.6 1697.3,418.3 1697.4,417.0 1697.4,415.7 1697.5,414.3 1697.5,413.0 1697.6,411.7 1697.6,410.4 1697.7,409.1 1697.7,407.8 1697.8,406.5 1697.8,405.2 1697.9,403.9 1697.9,402.6 1698.0,401.3 1698.0,400.0 1698.0,398.7 1698.1,397.4 1698.1,396.1 1698.2,394.8 1698.2,393.5 1698.3,392.1 1698.3,390.8 1698.4,389.5 1698.4,388.2 1698.5,386.9 1698.5,385.6 1698.6,384.3 1698.6,383.0 1698.7,381.7 1698.7,380.4 1698.8,379.1 1698.8,377.8 1698.9,376.4 1698.9,375.1 1699.0,373.8 1699.0,372.5 1699.1,371.2 1699.1,369.9 1699.2,368.6 1699.2,367.3 1699.3,366.0 1699.3,364.7 1699.4,363.4 1699.4,362.1 1699.5,360.7 1699.5,359.4 1699.6,358.1 1699.6,356.8 1699.7,355.5 1699.7,354.2 1699.8,352.9 1699.8,351.6 1699.9,350.3 1699.9,349.0 1700.0,347.7 1700.0,346.4 1700.1,345.0 1700.1,343.7 1700.2,342.4 1700.2,341.1 1700.3,339.8 1700.3,338.5 1700.3,337.2 1700.4,335.9 1700.4,334.6 1700.4,333.3 1700.5,332.0 1700.5,330.6 1700.6,329.3 1700.6,328.0 1700.6,326.7 1700.7,325.4 1700.7,324.1 1700.7,322.8 1700.8,321.5 1700.8,320.2 1700.8,318.9 1700.9,317.6 1700.9,316.3 1701.0,314.9 1701.0,313.6 1701.0,312.3 1701.1,311.0 1701.1,309.7 1701.1,308.4 1701.2,307.1 1701.2,305.8 1701.3,304.5 1701.3,303.2 1701.3,301.9 1701.4,300.6 1701.4,299.2 1701.4,297.9 1701.5,296.6 1701.5,295.3 1701.5,294.0 1701.6,292.7 1701.6,291.4 1701.7,290.1 1701.7,288.8 1701.7,287.5 1701.8,286.2 1701.8,284.9 1701.8,283.6 1701.9,282.2 1701.9,280.9 1702.0,279.6 1702.0,278.3 1702.0,277.0 1702.1,275.7 1702.1,274.4 1702.1,273.1 1702.2,271.8 1702.2,270.5 1702.2,269.2 1702.3,267.9 1702.3,266.5 1702.4,265.2 1702.4,263.9 1702.4,262.6 1702.5,261.3 1702.5,260.0 1702.5,258.7 1702.6,257.4 1702.6,256.1 1702.6,254.8 1702.6,253.5 1702.7,252.2 1702.7,250.9 1702.7,249.6 1702.7,248.3 1702.8,247.0 1702.8,245.7 1702.8,244.4 1702.9,243.1 1702.9,241.8 1702.9,240.5 1702.9,239.2 1703.0,237.9 1703.0,236.6 1703.0,235.3 1703.0,234.0 1703.1,232.7 1703.1,231.4 1703.1,230.1 1703.2,228.8 1703.2,227.5 1703.2,226.2 1703.2,224.9 1703.3,223.6 1703.3,222.3 1703.3,221.0 1703.4,219.7 1703.4,218.4 1703.4,217.1 1703.4,215.8 1703.5,214.5 1703.5,213.2 1703.5,211.9 1703.5,210.6 1703.6,209.3 1703.6,208.0 1703.7,206.7 1703.8,205.4 1703.8,204.1 1703.9,202.8 1704.0,201.5 1704.1,200.2 1704.1,198.9 1704.2,197.6 1704.3,196.3 1704.4,195.0 1704.5,193.7 1704.5,192.4 1704.6,191.1 1704.7,189.8 1704.8,188.4 1704.9,187.1 1704.9,185.8 1705.0,184.5 1705.1,183.2 1705.2,181.9 1705.2,180.6 1705.3,179.3 1705.4,178.0 1705.5,176.7 1705.6,175.4 1705.6,174.1 1705.7,172.8 1705.8,171.5 1706.0,170.1 1706.2,168.8 1706.4,167.4 1706.6,166.1 1706.8,164.7 1707.0,163.4 1707.2,162.0 1707.5,160.6 1707.7,159.3 1707.9,157.9 1708.1,156.6 1708.3,155.2 1708.5,153.9 1708.7,151.6 1710.5,152.4 1712.3,151.0 1712.7,152.3 1713.0,153.6 1713.4,154.9 1713.8,156.2 1714.2,157.4 1714.5,158.7 1714.9,160.0 1715.3,160.8 1715.8,162.7 1716.3,163.5 1716.8,164.6 1717.2,166.5 1717.7,167.6 1718.2,168.6 1718.7,170.8 1719.2,171.7 1719.6,171.7 1720.1,173.5 1720.6,175.2 1721.1,177.6 1722.6,177.8 1724.0,177.2 1725.5,176.1 1726.0,176.8 1726.6,174.7 1727.1,173.9 1727.6,173.0 1728.1,171.7 1728.7,170.1 1729.2,170.0 1729.7,167.5 1730.2,166.3 1730.8,166.2 1731.3,163.5 1732.0,162.5 1732.8,162.7 1733.5,159.6 1734.2,160.3 1734.9,158.8 1735.7,157.0 1736.4,155.5 1737.1,155.5 1737.9,154.7 1738.6,151.6 1739.6,151.5 1740.7,150.8 1741.7,149.7 1742.8,148.4 1743.8,147.0 1744.9,147.1 1745.9,146.7 1747.1,145.7 1748.3,146.8 1749.4,148.9 1750.6,149.6 1751.8,150.0 1753.0,149.1 1754.3,151.4 1755.5,152.6 1756.8,153.3 1758.0,153.2 1759.3,152.3 1760.5,154.8 1761.8,152.9 1763.1,153.5 1764.5,153.9 1765.8,152.9 1767.1,151.1 1768.4,151.1 1769.8,152.2 1771.1,150.0 1772.4,150.7 1773.8,149.8 1775.1,148.8 1776.5,149.5 1777.9,147.7 1779.2,147.4 1780.6,147.6 1782.0,146.5 1783.3,146.0 1784.7,146.9 1786.1,147.5 1787.4,148.0 1788.8,146.4 1790.2,147.3 1791.5,147.3 1792.9,148.1 1794.3,148.1 1795.6,149.4 1797.0,148.2 1798.2,147.9 1799.5,149.9 1800.7,149.0 1802.0,150.6 1803.2,150.7 1804.4,152.1 1805.7,151.7 1806.9,152.3 1808.2,151.9 1809.4,153.0 1810.7,152.3 1812.1,153.5 1813.4,152.9 1814.7,152.0 1816.0,152.3 1817.4,152.6 1818.7,153.5 1820.0,152.1 1821.4,153.4 1822.7,153.3 1824.0,151.9 1825.3,153.3 1826.7,151.9 1828.0,152.0 1829.2,152.7 1830.5,151.4 1831.7,152.5 1832.9,151.1 1834.2,150.3 1835.4,151.0 1836.6,148.7 1837.8,149.9 1839.1,147.9 1840.3,147.7 1841.6,149.5 1842.9,148.8 1844.3,147.7 1845.6,147.4 1846.9,149.4 1848.2,148.6 1849.5,149.0 1850.9,147.3 1852.2,148.4 1853.5,147.7 1854.8,147.4 1856.2,147.6 1857.5,148.2 1858.8,147.5 1860.1,147.7 1861.5,147.1 1862.8,148.8 1864.1,148.4 1865.4,148.8 1866.8,148.0 1868.1,149.0 1869.4,148.3 1870.8,148.5 1872.1,148.5 1873.4,148.9 1874.7,148.2 1876.1,147.5 1877.4,147.4 1878.8,148.0 1880.2,147.8 1881.6,150.0 1883.0,149.2 1884.4,150.1 1885.8,148.4 1887.2,149.8 1888.6,150.9 1890.0,150.5 1891.3,149.9 1892.7,149.8 1894.0,148.8 1895.4,148.8 1896.8,148.7 1898.1,149.0 1899.5,148.9 1900.8,150.0 1902.2,148.1 1903.5,148.2 1904.9,148.1 1906.2,147.7 1907.6,147.8 1908.9,147.6 1910.2,148.4 1911.6,147.5 1913.0,149.8 1914.3,148.7 1915.7,150.3 1917.0,149.9 1918.4,150.0 1919.7,149.7 1921.1,151.1 1922.4,150.2 1922.7,151.5 1923.1,152.9 1923.4,154.2 1923.7,155.6 1924.1,157.0 1924.4,157.4 1924.9,157.4 1925.4,155.1 1925.9,154.7 1926.4,153.6 1927.8,152.2 1929.1,152.3 1930.5,151.9 1931.8,152.4 1933.2,152.0 1934.5,152.8 1935.9,154.1 1937.2,152.7 1938.6,152.5 1939.9,152.9 1941.2,152.5 1942.6,153.6 1944.0,153.5 1945.3,152.2 1946.7,152.4 1948.0,153.4 1949.4,154.1 1950.7,153.4 1952.0,153.5 1953.4,155.5 1954.7,153.8 1956.1,154.6 1957.4,157.0 1958.7,156.2 1960.1,155.4 1961.4,156.7 1962.8,157.8 1964.1,156.8 1965.5,156.5 1966.8,155.9 1968.2,156.0 1969.5,158.0 1970.9,157.1 1972.2,158.3 1973.6,156.3 1974.9,156.8 1976.3,156.4 1977.6,157.4 1978.8,157.3 1979.9,158.6 1981.1,159.7 1982.2,160.3 1983.4,160.5 1984.5,161.2 1985.7,164.2 1987.0,162.2 1988.4,162.9 1989.7,162.6 1991.1,162.8 1992.4,161.6 1993.8,162.1 1995.1,161.5 1996.1,161.5 1997.2,161.4 1998.2,159.6 1999.2,159.2 2000.3,158.7 2001.4,159.3 2002.4,161.6 2003.5,162.6 2004.6,163.9 2005.6,164.4 2006.6,166.0 2007.7,167.3 2008.7,168.8 2009.7,168.3 2010.7,169.7 2012.1,170.6 2013.4,169.8" fill="none" stroke="#ff3b3b" stroke-width="4.2" stroke-linejoin="round"/>
<line x1="1306" y1="299.1" x2="1354.4" y2="299.1" stroke="#575555" stroke-width="5"/>
<line x1="1306" y1="335.6" x2="1354.4" y2="335.6" stroke="#ff3b3b" stroke-width="5"/>
<text class="b" x="1381.6" y="316" font-size="41.2" letter-spacing="2.5" fill="#000">Reflectivity</text>
<text class="b" x="1381.6" y="352.7" font-size="42" letter-spacing="2.28" fill="#000">Transmissivity</text>
<text class="b" x="1464.5" y="836.5" font-size="62.3" letter-spacing="2.76" fill="#000">Wavelength (nm)</text>
<text class="b" transform="translate(1182.9,637.5) rotate(-90)" x="0" y="0" font-size="62.1" letter-spacing="2.85" fill="#000">Reflectivity (%)</text>
<text class="b" transform="translate(2210.3,674) rotate(-90)" x="0" y="0" font-size="64.8" letter-spacing="1.53" fill="#000">Transmissivity (%)</text>
</svg></body></html>
